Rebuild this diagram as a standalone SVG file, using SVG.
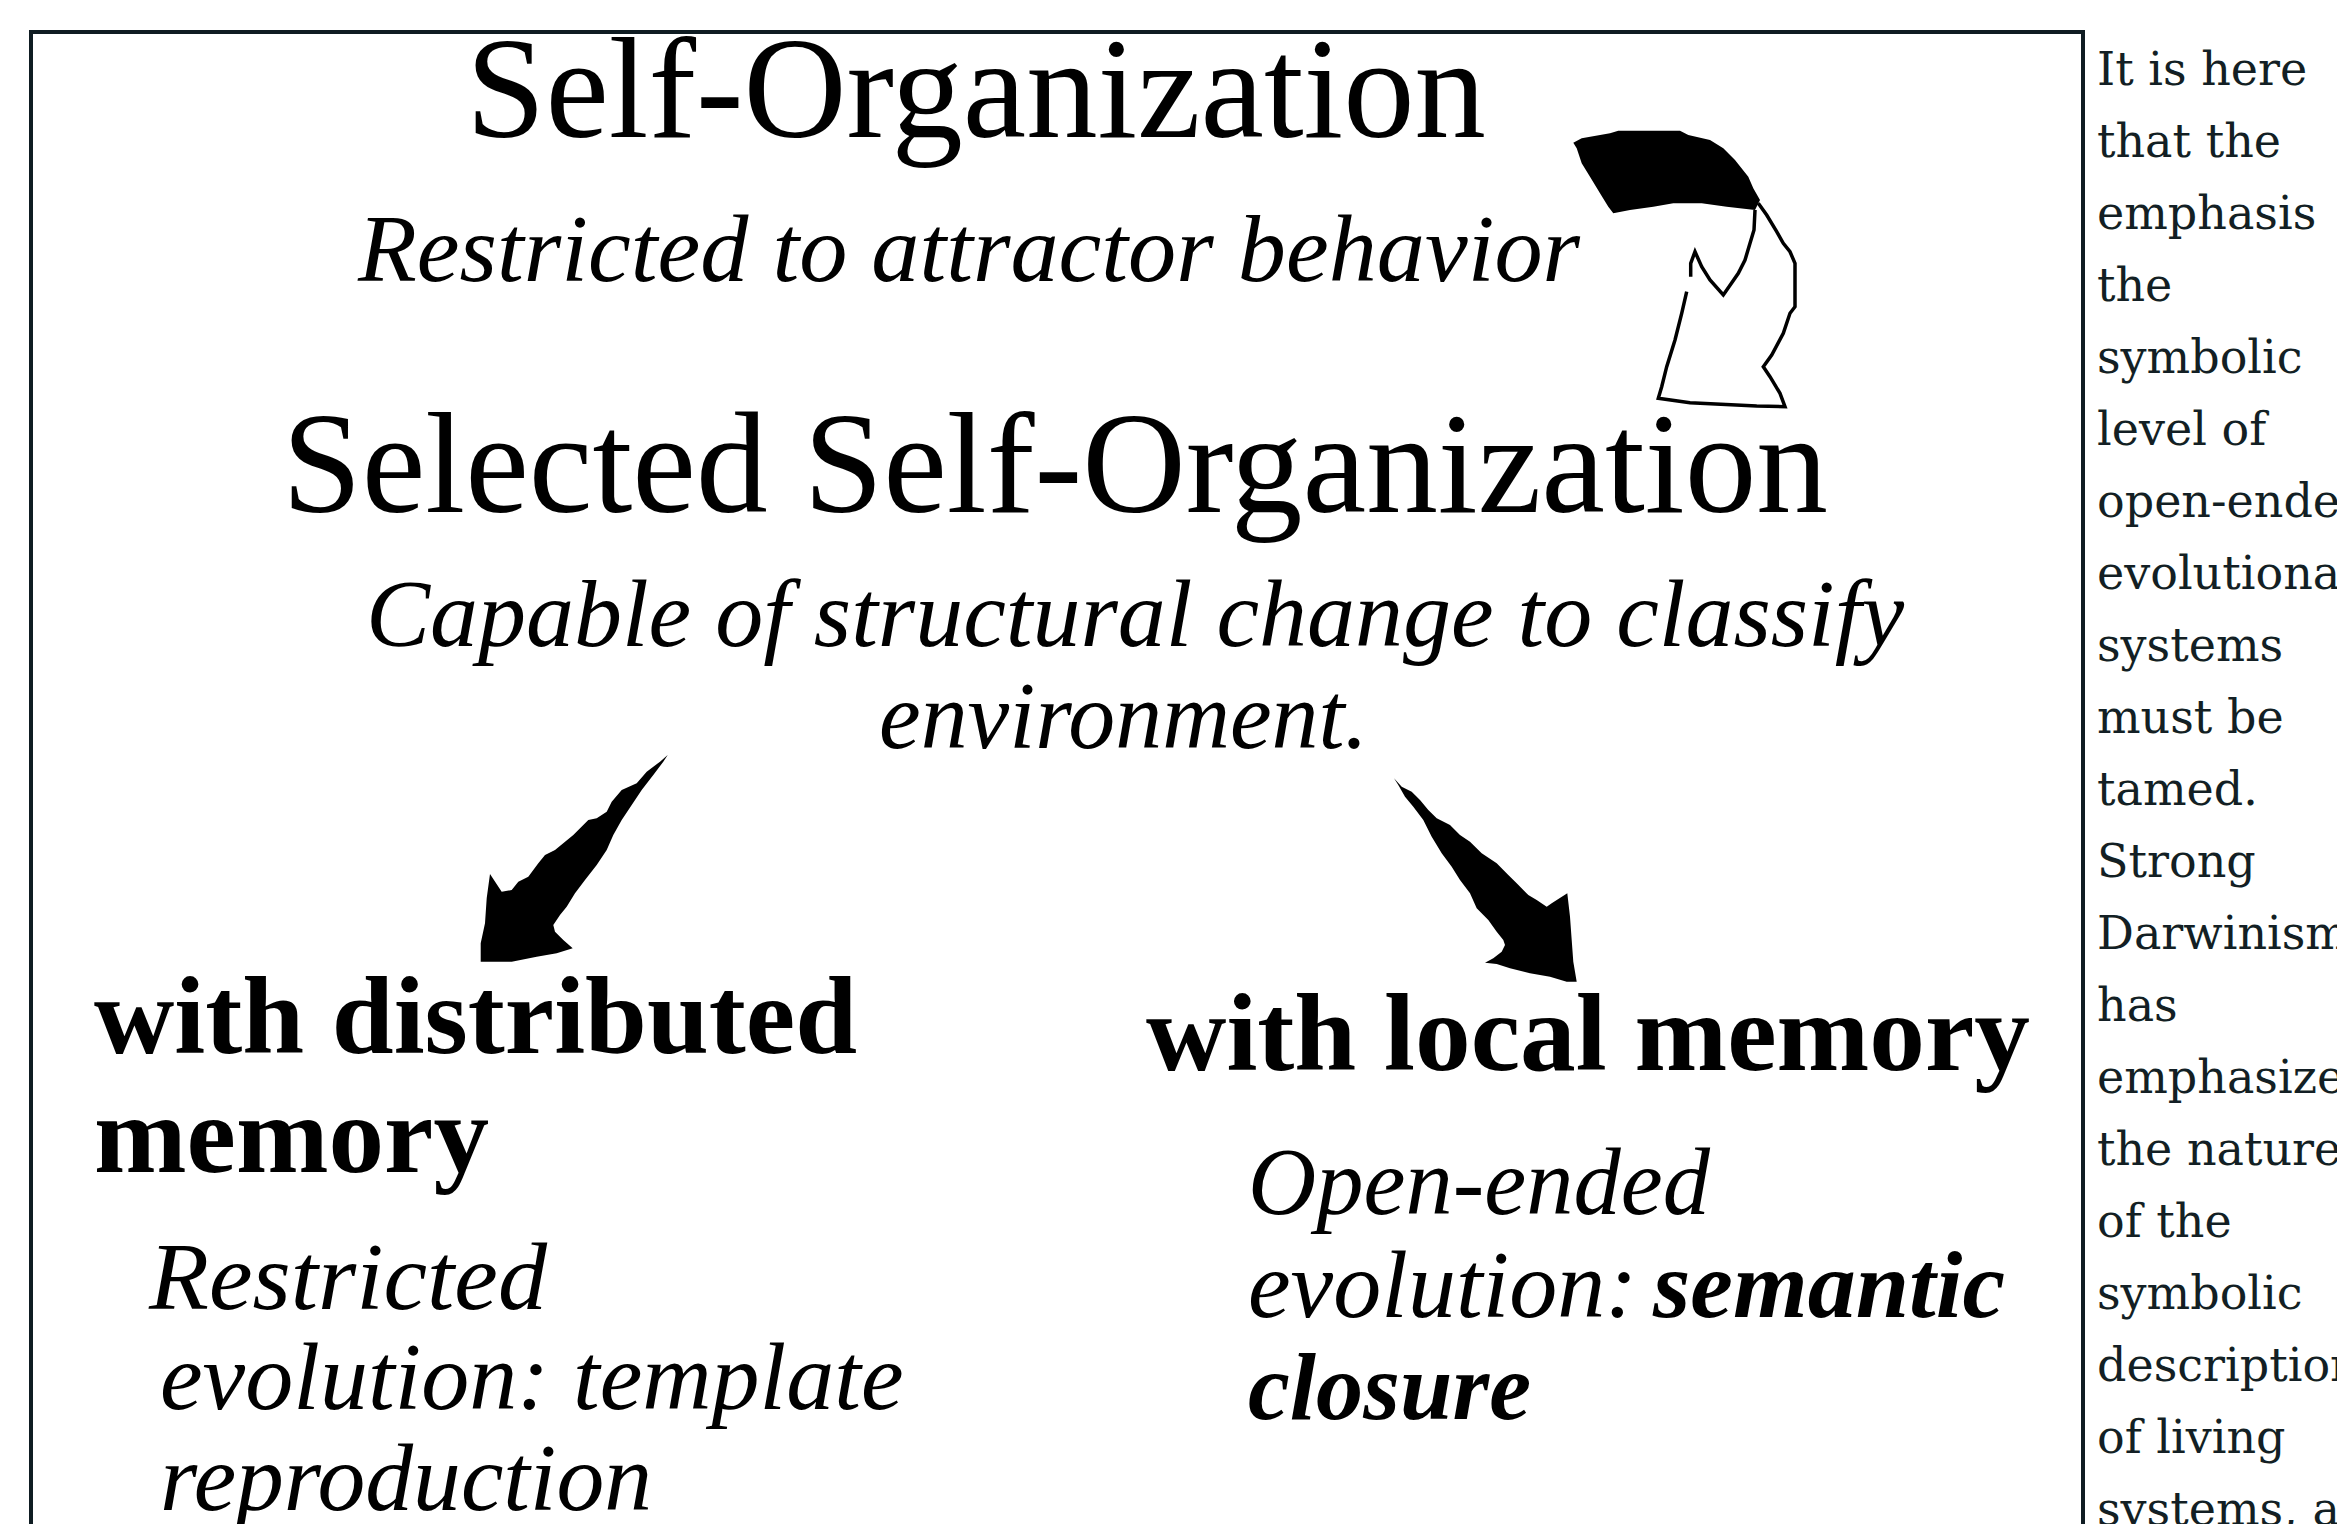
<svg xmlns="http://www.w3.org/2000/svg" width="2337" height="1524" viewBox="0 0 2337 1524">
<style>
.serif{font-family:"Liberation Serif","Times New Roman",serif;fill:#000}
.head{font-size:143px}
.it{font-style:italic;font-size:96px}
.bd{font-weight:bold;font-size:111px}
.bi{font-weight:bold;font-style:italic}
.side{font-family:"DejaVu Serif",serif;font-size:46px;fill:#131f24}
.solid{fill:#000;stroke:none}
.outline{fill:none;stroke:#000;stroke-width:3.5;stroke-linejoin:miter}
</style>
<rect x="0" y="0" width="2337" height="1524" fill="#fff"/>
<rect id="frame" x="31" y="32" width="2052" height="1560" fill="none" stroke="#0f1c22" stroke-width="4"/>

<g id="node-self-organization">
<text class="serif head" x="466" y="137" textLength="1020" lengthAdjust="spacingAndGlyphs">Self-Organization</text>
<text class="serif it" x="358" y="281" textLength="1222" lengthAdjust="spacingAndGlyphs">Restricted to attractor behavior</text>
</g>

<g id="node-selected-self-organization">
<text class="serif head" x="282" y="512" textLength="1546" lengthAdjust="spacingAndGlyphs">Selected Self-Organization</text>
<text class="serif it" x="366" y="646" textLength="1538" lengthAdjust="spacingAndGlyphs">Capable of structural change to classify</text>
<text class="serif it" x="879" y="748" textLength="489" lengthAdjust="spacingAndGlyphs">environment.</text>
</g>

<g id="node-distributed-memory">
<text class="serif bd" x="94" y="1053" textLength="763" lengthAdjust="spacingAndGlyphs">with distributed</text>
<text class="serif bd" x="94" y="1172" textLength="395" lengthAdjust="spacingAndGlyphs">memory</text>
<text class="serif it" x="149" y="1309" textLength="398" lengthAdjust="spacingAndGlyphs">Restricted</text>
<text class="serif it" x="160" y="1409">evolution: <tspan x="573">template</tspan></text>
<text class="serif it" x="160" y="1510" textLength="492" lengthAdjust="spacingAndGlyphs">reproduction</text>
</g>

<g id="node-local-memory">
<text class="serif bd" x="1146" y="1070" textLength="884" lengthAdjust="spacingAndGlyphs">with local memory</text>
<text class="serif it" x="1248" y="1214" textLength="462" lengthAdjust="spacingAndGlyphs">Open-ended</text>
<text class="serif it" x="1248" y="1317">evolution: <tspan class="bi" x="1653">semantic</tspan></text>
<text class="serif it bi" x="1248" y="1419" textLength="283" lengthAdjust="spacingAndGlyphs">closure</text>
</g>

<g id="side-text" class="side">
<text x="2097" y="85">It is here</text>
<text x="2097" y="157">that the</text>
<text x="2097" y="229">emphasis</text>
<text x="2097" y="301">the</text>
<text x="2097" y="373">symbolic</text>
<text x="2097" y="445">level of</text>
<text x="2097" y="517">open-ended</text>
<text x="2097" y="589">evolutionary</text>
<text x="2097" y="661">systems</text>
<text x="2097" y="733">must be</text>
<text x="2097" y="805">tamed.</text>
<text x="2097" y="877">Strong</text>
<text x="2097" y="949">Darwinism</text>
<text x="2097" y="1021">has</text>
<text x="2097" y="1093">emphasized</text>
<text x="2097" y="1165">the nature</text>
<text x="2097" y="1237">of the</text>
<text x="2097" y="1309">symbolic</text>
<text x="2097" y="1381">description</text>
<text x="2097" y="1453">of living</text>
<text x="2097" y="1525">systems, and</text>
</g>

<g id="connectors">
<g id="loop-arrow">
<path class="solid" d="M1573.3,142.7 L1581.7,138.3 L1610,133.3 L1618.3,130.7 L1680,130.7 L1688.3,135 L1710,140 L1723.3,148.3 L1735,160 L1748.3,176.7 L1753.3,188.3 L1760,200 L1755,210 L1726.7,206.7 L1701.7,203.3 L1673.3,203.3 L1653.3,206.7 L1630,210 L1613.3,213.3 L1608.3,206.7 L1600,193.3 L1590,176.7 L1581.7,163.3 L1576.7,148.3 Z"/>
<path class="outline" d="M1755,210 L1754,230 L1750,243.3 L1745,260 L1738.3,273.3 L1723.3,295 L1710,280 L1701.7,266.7 L1695,251.7 L1690.7,263.3 L1690.7,276.7"/>
<path class="outline" d="M1686.7,291.7 L1681.7,313.3 L1675,340 L1666.7,366.7 L1661.7,386.7 L1658.3,398.3 L1690,402.7 L1756.7,406 L1785,406.7 L1780,393.3 L1770,376.7 L1763.3,366.7 L1771.7,355 L1783.3,333.3 L1790,313.3 L1795,306.7 L1795,263.3 L1790,251.7 L1783.3,243.3 L1776.7,231.7 L1766.7,215 L1758.3,203.3"/>
</g>
<path id="arrow-to-distributed" class="solid" d="M667.7,755 L660,761.7 L646.7,771.7 L636.7,783.3 L621.7,790 L611.7,801.7 L606.7,811.7 L596.7,818.3 L588.3,820 L573.3,835 L555,850 L545,855 L538.3,863.3 L528.3,876.7 L518.3,881.7 L511.7,890 L501.7,891.7 L490,874 L486.7,898.3 L485,923.3 L480.7,943.3 L480.7,961.7 L511.7,961.7 L536.7,956.7 L556.7,953.3 L572.7,948.3 L563.3,940 L555,931.7 L553.3,925 L560,915 L566.7,906.7 L575,893.3 L585,880 L596.7,865 L606.7,850 L613.3,835 L621.7,820 L631.7,805 L641.7,790 L653.3,775 L663.3,761.7 Z"/>
<path id="arrow-to-local" class="solid" d="M1394,778.3 L1401.7,786.7 L1411.7,791.7 L1420,800 L1428.3,810 L1436.7,818.3 L1450,825 L1460,835 L1470,841.7 L1481.7,853.3 L1496.7,863.3 L1508.3,875 L1516.7,883.3 L1528.3,895 L1536.7,900 L1546.7,906.7 L1551.7,903.3 L1567.3,893.3 L1570,916.7 L1571.7,940 L1573.3,961.7 L1576.7,981.7 L1566.7,981.7 L1550,976.7 L1530,973.3 L1510,968.3 L1496.7,964 L1485,962.7 L1493.3,958.3 L1501.7,951.7 L1505,945 L1503.3,940 L1496.7,931.7 L1488.3,920 L1476.7,908.3 L1470,893.3 L1460,880 L1451.7,866.7 L1441.7,853.3 L1431.7,836.7 L1423.3,820 L1413.3,806.7 L1405,796.7 L1398.3,785 Z"/>
</g>
</svg>
